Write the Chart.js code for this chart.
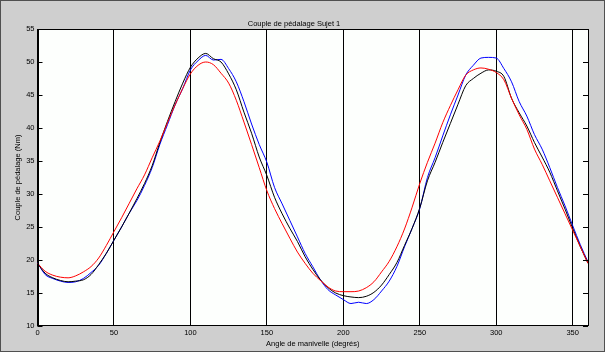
<!DOCTYPE html>
<html>
<head>
<meta charset="utf-8">
<script src="https://cdn.jsdelivr.net/npm/chart.js@4/dist/chart.umd.min.js"></script>
<style>
  html, body { margin: 0; padding: 0; background: #cfcfcf; }
  #wrap { width: 605px; height: 352px; position: relative; }
</style>
</head>
<body>
<div id="wrap"><canvas id="myChart" width="605" height="352"></canvas></div>
<script>
// angle de manivelle (degrés), pas de 5
var angles = [0, 5, 10, 15, 20, 25, 30, 35, 40, 45, 50, 55, 60, 65, 70, 75, 80, 85, 90, 95,
    100, 105, 110, 115, 120, 125, 130, 135, 140, 145, 150, 155, 160, 165, 170, 175, 180,
    185, 190, 195, 200, 205, 210, 215, 220, 225, 230, 235, 240, 245, 250, 255, 260, 265,
    270, 275, 280, 285, 290, 295, 300, 305, 310, 315, 320, 325, 330, 335, 340, 345, 350, 355, 360];

var rouge = [19.5, 18.3, 17.7, 17.4, 17.3, 17.6, 18.2, 19.0, 20.3, 22.2, 24.3, 26.4, 28.6, 30.8,
    32.9, 35.5, 38.0, 40.8, 43.5, 46.0, 48.2, 49.5, 50.0, 49.6, 48.3, 46.8, 44.2, 40.9, 37.5,
    34.0, 30.5, 27.8, 25.5, 23.3, 21.2, 19.5, 18.0, 16.9, 15.9, 15.3, 15.2, 15.2, 15.3, 15.8,
    16.7, 18.2, 19.8, 22.0, 24.7, 28.0, 31.6, 34.8, 37.7, 40.8, 43.4, 45.8, 48.0, 48.8, 49.1,
    48.9, 48.4, 47.3, 44.5, 42.0, 39.8, 36.8, 34.5, 32.0, 29.5, 27.0, 24.5, 22.0, 19.5];

var noir = [19.5, 18.0, 17.3, 16.9, 16.7, 16.8, 17.0, 17.8, 19.3, 21.0, 23.0, 25.0, 27.1, 29.3,
    31.6, 34.3, 37.8, 41.0, 44.0, 46.8, 49.2, 50.6, 51.3, 50.5, 50.0, 48.2, 45.8, 42.4, 39.2,
    35.6, 32.8, 29.5, 27.0, 24.8, 22.8, 20.5, 18.6, 17.0, 15.8, 15.0, 14.6, 14.4, 14.3, 14.5,
    15.1, 16.2, 17.8, 19.6, 22.2, 24.8, 27.9, 32.0, 34.8, 37.8, 40.7, 43.6, 46.4, 47.5, 48.3,
    48.8, 48.6, 47.8, 44.5, 42.3, 40.3, 37.8, 35.6, 33.3, 30.5, 27.7, 24.8, 22.0, 19.5];

var bleu = [19.6, 17.8, 17.2, 16.8, 16.6, 16.7, 17.2, 18.1, 19.2, 21.0, 23.0, 25.0, 27.1, 29.0,
    31.3, 34.0, 37.5, 40.5, 43.5, 46.0, 48.8, 50.2, 51.0, 50.3, 50.4, 49.0, 47.0, 44.0, 40.6,
    37.5, 34.8, 31.0, 28.5, 26.0, 23.5, 21.0, 19.0, 17.0, 15.5, 14.7, 14.0, 13.4, 13.6, 13.4,
    14.0, 15.3, 16.8, 19.0, 22.0, 24.8, 27.8, 32.5, 35.5, 38.8, 42.0, 45.0, 48.0, 49.5, 50.6,
    50.7, 50.6, 49.0, 47.0, 44.0, 41.8, 39.0, 36.8, 34.0, 31.0, 28.2, 25.2, 22.3, 19.7];

var yTicks = [10, 15, 20, 25, 30, 35, 40, 45, 50, 55];
var xTicks = [0, 50, 100, 150, 200, 250, 300, 350];

var police = { family: "'Liberation Sans', Arial, sans-serif", size: 7.5, weight: "normal" };

function serie(label, data, color) {
    return {
        label: label,
        data: angles.map(function (a, i) { return { x: a, y: data[i] }; }),
        borderColor: color,
        borderWidth: 1,
        pointRadius: 0,
        fill: false,
        cubicInterpolationMode: "monotone",
    };
}

// fond gris, cadre, zone blanche et petites graduations type matlab
var cadre = {
    id: "cadre",
    beforeDraw: function (c) {
        var ctx = c.ctx, a = c.chartArea;
        ctx.save();
        ctx.fillStyle = "#cfcfcf";
        ctx.fillRect(0, 0, c.width, c.height);
        ctx.strokeStyle = "#505050";
        ctx.lineWidth = 1;
        ctx.strokeRect(0.5, 0.5, c.width - 1, c.height - 1);
        ctx.fillStyle = "#fdfffd";
        ctx.fillRect(a.left, a.top, a.right - a.left, a.bottom - a.top);
        ctx.restore();
    },
    afterDatasetsDraw: function (c) {
        var ctx = c.ctx, a = c.chartArea, y = c.scales.y;
        ctx.save();
        ctx.strokeStyle = "#000";
        ctx.lineWidth = 1;
        ctx.strokeRect(Math.round(a.left) + 0.5, Math.round(a.top) + 0.5,
            Math.round(a.right - a.left) - 1, Math.round(a.bottom - a.top) - 1);
        ctx.beginPath();
        yTicks.forEach(function (v) {
            var py = Math.round(y.getPixelForValue(v)) + 0.5;
            ctx.moveTo(a.left, py); ctx.lineTo(a.left + 5, py);
            ctx.moveTo(a.right, py); ctx.lineTo(a.right - 5, py);
        });
        ctx.stroke();
        ctx.restore();
    },
};

new Chart(document.getElementById("myChart").getContext("2d"), {
    type: "line",
    data: {
        datasets: [
            serie("rouge", rouge, "#ff0000"),
            serie("noir", noir, "#000000"),
            serie("bleu", bleu, "#0000ff"),
        ],
    },
    options: {
        responsive: false,
        animation: false,
        layout: { padding: { left: 0, right: 17, top: 0, bottom: 0 } },
        plugins: {
            legend: { display: false },
            tooltip: { enabled: false },
            title: {
                display: true,
                text: "Couple de pédalage Sujet 1",
                color: "#000",
                font: police,
                padding: { top: 19.5, bottom: 0.5 },
            },
        },
        scales: {
            x: {
                type: "linear",
                min: 0,
                max: 360,
                afterBuildTicks: function (s) { s.ticks = xTicks.map(function (v) { return { value: v }; }); },
                afterFit: function (s) { s.height = 26; },
                ticks: { color: "#000", font: police, padding: 2.5, maxRotation: 0 },
                grid: { color: "#000", lineWidth: 1, drawTicks: false },
                border: { display: false },
                title: {
                    display: true,
                    text: "Angle de manivelle (degrés)",
                    color: "#000",
                    font: police,
                    padding: { top: 0, bottom: 4 },
                },
            },
            y: {
                min: 10,
                max: 55,
                afterBuildTicks: function (s) { s.ticks = yTicks.map(function (v) { return { value: v }; }); },
                afterFit: function (s) { s.width = 37.5; },
                ticks: { color: "#000", font: police, padding: 3 },
                grid: { display: false, drawTicks: false },
                border: { display: false },
                title: {
                    display: true,
                    text: "Couple de pédalage (Nm)",
                    color: "#000",
                    font: police,
                    padding: { top: 13.5, bottom: 0 },
                },
            },
        },
    },
    plugins: [cadre],
});
</script>
</body>
</html>
